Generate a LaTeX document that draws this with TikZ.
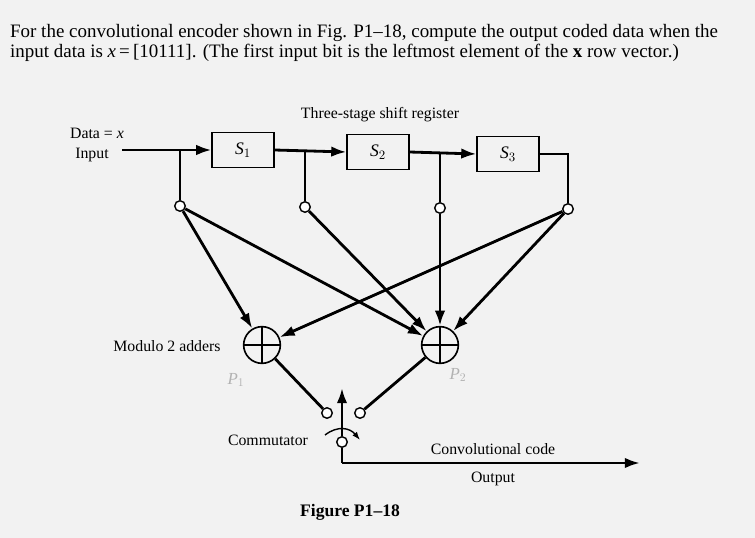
\documentclass[tikz,border=0pt]{standalone}
\usepackage{fontspec}
\setmainfont{Liberation Serif}
\usetikzlibrary{arrows.meta}
\begin{document}
\begin{tikzpicture}[x=0.03cm,y=-0.03cm,
  wire/.style={line width=2.4pt},
  arr/.style={wire,-{Latex[length=13pt,width=9pt]}},
  reg/.style={draw,line width=1.2pt,minimum width=1.85cm,minimum height=1.05cm,inner sep=0pt,font=\fontsize{15}{17}\selectfont},
  tap/.style={circle,draw,fill=white,line width=1.2pt,minimum size=9pt,inner sep=0pt},
  adder/.style={circle,draw,line width=1.4pt,minimum size=1.1cm,inner sep=0pt,
    path picture={\draw[line width=1.4pt] (path picture bounding box.north)--(path picture bounding box.south)
      (path picture bounding box.west)--(path picture bounding box.east);}},
  lab/.style={font=\fontsize{13.5}{16}\selectfont},
  head/.style={font=\fontsize{16.2}{18}\selectfont,anchor=west}]
\fill[gray!10] (0,0) rectangle (755,538);
\useasboundingbox (0,0) rectangle (755,538);
\node[head] (t1) at (6,33) {For the convolutional encoder shown in Fig. P1--18, compute the output coded data when the};
\node[head] (t2) at (6,53) {input data is \textit{x}\,=\,[10111]. (The first input bit is the leftmost element of the \textbf{x} row vector.)};
\node[lab] (tsr) at (380,115) {Three-stage shift register};
\node[lab] (dx) at (97,133) {Data = \textit{x}};
\node[lab] (inp) at (92,155) {Input};
\node[reg] (s1) at (243,150) {\textit{S}$_1$};
\node[reg] (s2) at (378,152) {\textit{S}$_2$};
\node[reg] (s3) at (508,154) {\textit{S}$_3$};
\coordinate (in) at (122,150);
\coordinate (j1) at (180,150);
\coordinate (j2) at (305,151);
\coordinate (j3) at (440,153);
\coordinate (j4) at (568,154);
\node[tap] (c1) at (180,206) {};
\node[tap] (c2) at (305,207) {};
\node[tap] (c3) at (440,208) {};
\node[tap] (c4) at (568,209) {};
\node[adder] (a1) at (262,345) {};
\node[adder] (a2) at (440,345) {};
\draw[arr] (in) -- (s1.west);
\draw[arr] (s1.east) -- (s2.west);
\draw[arr] (s2.east) -- (s3.west);
\draw[wire] (s3.east) -| (c4);
\draw[wire] (j1) -- (c1);
\draw[wire] (j2) -- (c2);
\draw[wire] (j3) -- (c3);
\draw[arr] (c1) -- (a1);
\draw[arr] (c1) -- (a2);
\draw[arr] (c2) -- (a2);
\draw[arr] (c3) -- (a2);
\draw[arr] (c4) -- (a1);
\draw[arr] (c4) -- (a2);
\node[tap] (k1) at (327,413) {};
\node[tap] (k2) at (360,413) {};
\node[tap] (pv) at (342,442) {};
\coordinate (up) at (342,388);
\coordinate (oc) at (342,463);
\coordinate (out) at (640,463);
\draw[wire] (a1) -- (k1);
\draw[wire] (a2) -- (k2);
\draw[arr] (pv) -- (up);
\draw[wire] (pv) -- (oc);
\draw[arr] (oc) -- (out);
\draw[line width=1.2pt,-{Latex[length=7pt,width=5pt]}] (325,435) .. controls (338,425) and (350,428) .. (360,440);
\node[lab] (ma) at (167,346) {Modulo 2 adders};
\node[lab] (cm) at (268,440) {Commutator};
\node[lab] (cc) at (493,449) {Convolutional code};
\node[lab] (op) at (493,479) {Output};
\node[font=\fontsize{15}{17}\selectfont\bfseries] (fig) at (350,512) {Figure P1--18};
\node[gray!60,font=\Large\itshape] (p1) at (236,380) {P$_1$};
\node[gray!60,font=\Large\itshape] (p2) at (458,375) {P$_2$};
\end{tikzpicture}
\end{document}
